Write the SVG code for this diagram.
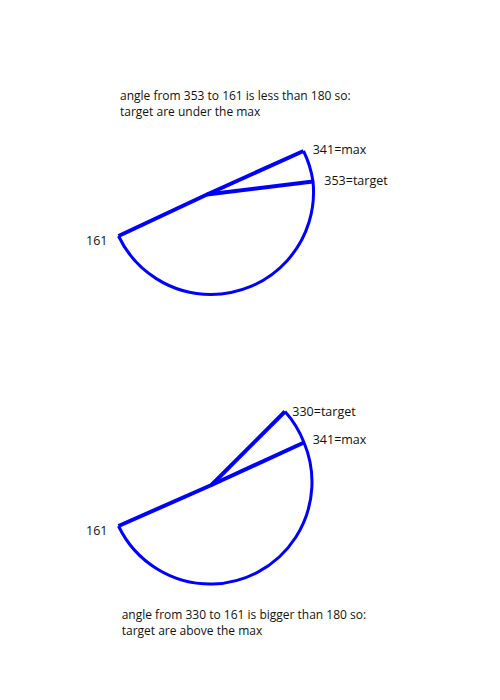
<svg xmlns="http://www.w3.org/2000/svg" width="500" height="700" viewBox="0 0 500 700">
<style>
text { font-family: "Open Sans", "Liberation Sans", sans-serif; font-size: 12.5px; fill: #111; }
.caption { font-size: 12px; }
.arc { fill: none; stroke: #0000ff; stroke-width: 3; stroke-linejoin: miter; }
.ray { fill: none; stroke: #0000ff; stroke-width: 4; stroke-linejoin: miter; stroke-linecap: butt; }
</style>
<rect width="500" height="700" fill="#ffffff"/>
<g id="top-diagram">
  <g id="top-caption">
    <text class="caption" x="120" y="99.5">angle from 353 to 161 is less than 180 so:</text>
    <text class="caption" x="120" y="115.5">target are under the max</text>
  </g>
  <g id="top-shapes">
    <path class="arc" d="M118.5,236 A102.5,102.5 0 0 0 211,294.5 A102.5,102.5 0 0 0 313,181.5 A102.5,102.5 0 0 0 303.5,151"/>
    <path class="ray" d="M118.5,236 L207,194.5 L303.5,151"/>
    <path class="ray" d="M207,194.5 L313,181.5"/>
  </g>
  <g id="top-labels">
    <text x="312.7" y="153.5">341=max</text>
    <text x="324.3" y="184.5">353=target</text>
    <text x="86" y="244.5">161</text>
  </g>
</g>
<g id="bottom-diagram">
  <g id="bottom-shapes">
    <path class="arc" d="M118.5,526 A102,102 0 0 0 213,584 A102,102 0 0 0 304,442.5 A102,102 0 0 0 285,411.5"/>
    <path class="ray" d="M118.5,526 L211.5,485 L304,442.5"/>
    <path class="ray" d="M211.5,485 L285,411.5"/>
  </g>
  <g id="bottom-labels">
    <text x="292.3" y="415.7">330=target</text>
    <text x="312.7" y="444.3">341=max</text>
    <text x="86" y="534.5">161</text>
  </g>
  <g id="bottom-caption">
    <text class="caption" x="121.7" y="619">angle from 330 to 161 is bigger than 180 so:</text>
    <text class="caption" x="121.7" y="635">target are above the max</text>
  </g>
</g>
</svg>
